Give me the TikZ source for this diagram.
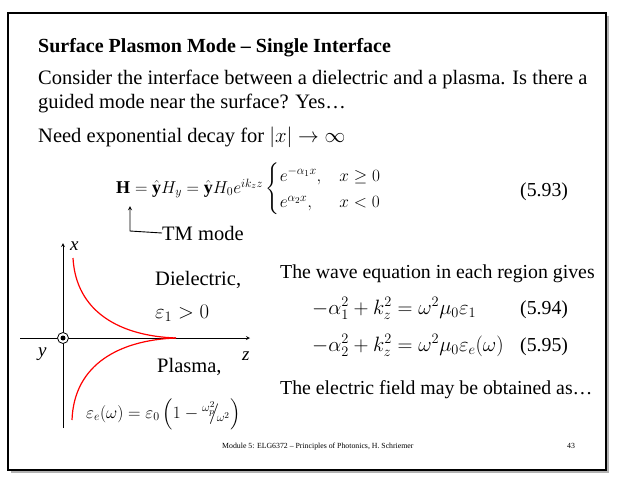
\documentclass[tikz,border=0pt]{standalone}
\usepackage{amsmath}
\usepackage{fontspec}
\setmainfont{Liberation Serif}
\begin{document}
\begin{tikzpicture}[x=1pt,y=-1pt,
  txt/.style={anchor=base west,inner sep=0pt,font=\fontsize{20.5}{24}\selectfont},
  rtxt/.style={anchor=base west,inner sep=0pt,font=\fontsize{19.8}{24}\selectfont},
  mth/.style={inner sep=0pt,font=\fontsize{19.5}{23}\selectfont},
  ttl/.style={anchor=base west,inner sep=0pt,font=\fontsize{20}{24}\selectfont\bfseries},
  foot/.style={anchor=base west,inner sep=0pt,font=\fontsize{7.8}{9}\selectfont},
  curve/.style={red,line width=1.2pt}]
\useasboundingbox (0,0) rectangle (635,485);
\fill[gray!60] (11,16) rectangle (609,473);
\draw[fill=white,line width=1.2pt] (8,13) rectangle (606,470);
\node[ttl] (t) at (38,52) {Surface Plasmon Mode -- Single Interface};
\node[txt] (l1) at (38,84) {Consider the interface between a dielectric and a plasma. Is there a};
\node[txt] (l2) at (38,108) {guided mode near the surface? Yes\ldots};
\node[txt] (l3) at (38,142) {Need exponential decay for $|x|\rightarrow\infty$};
\node[mth,anchor=west,font=\fontsize{18}{22}\selectfont] (eq) at (116,189)
 {$\mathbf{H}=\hat{\mathbf{y}}H_y=\hat{\mathbf{y}}H_0e^{ik_zz}\begin{cases}e^{-\alpha_1x}, & x\ge0\\ e^{\alpha_2x}, & x<0\end{cases}$};
\node[rtxt] (n93) at (520,196) {(5.93)};
\coordinate (hb) at (130,206);
\coordinate (corner) at (130,231);
\node[txt,anchor=west] (tm) at (162,233) {TM mode};
\draw[-stealth,line width=0.9pt] (tm.west) -- (corner) -- (hb);
% axes
\coordinate (o) at (63,338);
\coordinate (xt) at (63,243);
\coordinate (xb) at (63,428);
\coordinate (zl) at (20,338);
\coordinate (zr) at (250,338);
\draw[-stealth,line width=0.8pt] (xb) -- (xt);
\draw[-stealth,line width=0.8pt] (zl) -- (zr);
\draw[line width=0.8pt,fill=white] (o) circle (5.5);
\fill (o) circle (2.5);
\node[txt,font=\fontsize{19}{22}\selectfont\itshape] (xl) at (70,250) {x};
\node[txt,font=\fontsize{19}{22}\selectfont\itshape] (yl) at (38,356) {y};
\node[txt,font=\fontsize{19}{22}\selectfont\itshape] (zlab) at (242,360) {z};
\coordinate (ct) at (73,258);
\coordinate (cb) at (72,420);
\coordinate (ce) at (176,338);
\draw[curve] (ct) .. controls (76,312) and (120,336) .. (ce);
\draw[curve] (cb) .. controls (74,364) and (120,340) .. (ce);
\node[txt] (diel) at (155,285) {Dielectric,};
\node[txt] (e1) at (155,318) {$\varepsilon_1>0$};
\node[txt] (pl) at (157,372) {Plasma,};
\node[mth,anchor=west,font=\fontsize{18}{22}\selectfont] (ee) at (86,414)
 {$\varepsilon_e(\omega)=\varepsilon_0\left(1-{}^{\omega_p^2}\!\!\big/\!{}_{\omega^2}\right)$};
% right side
\node[rtxt] (wv) at (280,278) {The wave equation in each region gives};
\node[mth,anchor=base west] (e94) at (312,314) {$-\alpha_1^2+k_z^2=\omega^2\mu_0\varepsilon_1$};
\node[rtxt] (n94) at (520,314) {(5.94)};
\node[mth,anchor=base west] (e95) at (312,351) {$-\alpha_2^2+k_z^2=\omega^2\mu_0\varepsilon_e(\omega)$};
\node[rtxt] (n95) at (520,351) {(5.95)};
\node[rtxt] (ef) at (280,394) {The electric field may be obtained as\ldots};
\node[foot] (ft) at (222,448) {Module 5: ELG6372 -- Principles of Photonics, H. Schriemer};
\node[foot] (pg) at (567,448) {43};
\end{tikzpicture}
\end{document}
